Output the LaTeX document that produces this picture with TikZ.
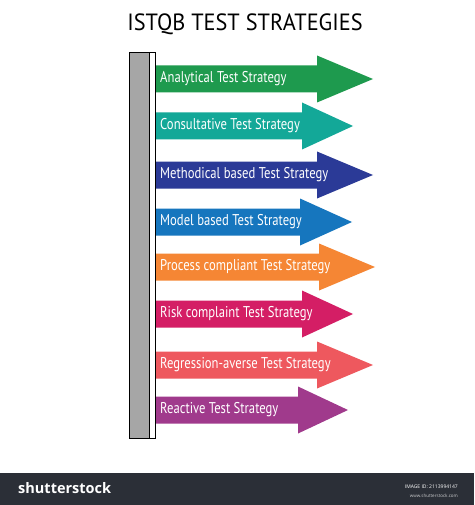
\documentclass[tikz,border=0pt]{standalone}
\usepackage{fontspec}
\setmainfont{PT Sans}
\newfontfamily\labfont[FakeStretch=0.81]{PT Sans}
\newfontfamily\titfont[FakeStretch=0.95]{PT Sans}
\newfontfamily\barfont{Open Sans}
\definecolor{cA}{RGB}{30,154,78}
\definecolor{cB}{RGB}{19,168,152}
\definecolor{cC}{RGB}{43,58,151}
\definecolor{cD}{RGB}{22,118,190}
\definecolor{cE}{RGB}{245,134,52}
\definecolor{cF}{RGB}{212,30,101}
\definecolor{cG}{RGB}{238,88,94}
\definecolor{cH}{RGB}{160,58,140}
\definecolor{barbg}{RGB}{43,47,55}
\definecolor{polegray}{RGB}{166,166,166}
\tikzset{
  lab/.style={anchor=west, text=white, font=\labfont\fontsize{15.6}{17}\selectfont, inner sep=0pt},
  pole/.style={draw=black, line width=0.8pt},
}
% #1 name, #2 y centre, #3 head base x, #4 tip x, #5 colour, #6 text
\newcommand\stratarrow[6]{%
  \fill[#5] (155,#2-13.5) -- (#3,#2-13.5) -- (#3,#2-23.5) -- (#4,#2) -- (#3,#2+23.5) -- (#3,#2+13.5) -- (155,#2+13.5) -- cycle;
  \node[lab] (#1) at (160,#2) {#6};
}
\begin{document}
\begin{tikzpicture}[x=1pt,y=-1pt]
\useasboundingbox (0,0) rectangle (474,505);
\fill[white] (0,0) rectangle (474,505);
\node[font=\titfont\fontsize{23.5}{26}\selectfont] (title) at (245,24) {ISTQB TEST STRATEGIES};
\stratarrow{a1}{79}{317}{373}{cA}{Analytical Test Strategy}
\stratarrow{a2}{126}{302}{353}{cB}{Consultative Test Strategy}
\stratarrow{a3}{175}{317}{373}{cC}{Methodical based Test Strategy}
\stratarrow{a4}{222}{300}{352}{cD}{Model based Test Strategy}
\stratarrow{a5}{267}{319}{375}{cE}{Process compliant Test Strategy}
\stratarrow{a6}{314}{302}{353}{cF}{Risk complaint Test Strategy}
\stratarrow{a7}{365}{317}{373}{cG}{Regression-averse Test Strategy}
\stratarrow{a8}{410}{298}{348}{cH}{Reactive Test Strategy}
\filldraw[pole, fill=polegray] (129,52) rectangle (149,438);
\filldraw[pole, fill=white] (149,52) rectangle (155,438);
\fill[barbg] (0,473) rectangle (474,505);
\node[anchor=west, text=white, font=\barfont\bfseries\fontsize{14.5}{16}\selectfont, inner sep=0pt] (brand) at (18,488) {shutterstock};
\node[anchor=east, text=white, font=\barfont\fontsize{5}{6}\selectfont, inner sep=0pt] (imgid) at (458,487) {IMAGE ID: 2113994147};
\node[anchor=east, text=white!75!barbg, font=\barfont\fontsize{4.5}{5}\selectfont, inner sep=0pt] (site) at (458,496) {www.shutterstock.com};
\end{tikzpicture}
\end{document}
